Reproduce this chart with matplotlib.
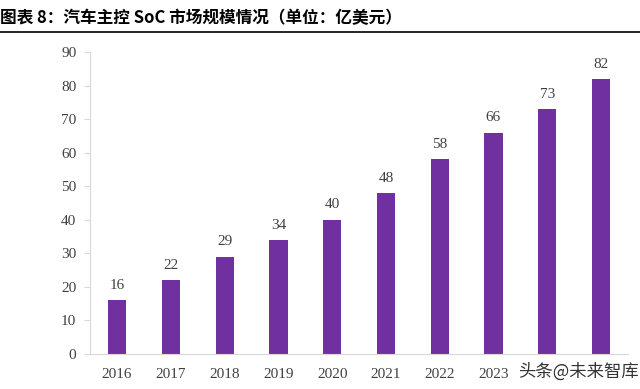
import matplotlib
matplotlib.use("Agg")
import matplotlib.pyplot as plt
from matplotlib.lines import Line2D

years = ["2016", "2017", "2018", "2019", "2020", "2021", "2022", "2023", "2024", "2025"]
values = [16, 22, 29, 34, 40, 48, 58, 66, 73, 82]
title = "图表 8：汽车主控 SoC 市场规模情况（单位：亿美元）"
watermark = "头条@未来智库"

PURPLE = "#7030A0"
GRID = "#d9d9d9"
TXT = "#404040"
SERIF = ["Liberation Serif", "DejaVu Serif"]
CJK = ["Noto Sans CJK SC", "DejaVu Sans"]

fig = plt.figure(figsize=(6.4, 3.89), dpi=100)
ax = fig.add_axes([0.141, 0.09, 0.84, 0.776])

x = list(range(len(years)))
ax.bar(x, values, width=0.34, color=PURPLE, zorder=2)
for xi, v in zip(x, values):
    ax.annotate(str(v), xy=(xi, v), xytext=(0, 6), textcoords="offset points",
                ha="center", va="bottom", fontsize=11, color=TXT, family=SERIF)

ax.set_xlim(-0.5, len(years) - 0.5)
ax.set_ylim(0, 90)
ax.set_yticks(range(0, 91, 10))
ax.set_xticks(x)
ax.set_xticklabels(years, family=SERIF, fontsize=11, color=TXT)
# the last two year labels sit under the watermark in the reference
for lab in ax.get_xticklabels()[-2:]:
    lab.set_visible(False)
for lab in ax.get_yticklabels():
    lab.set_family(SERIF)
ax.tick_params(axis="y", labelsize=11, labelcolor=TXT, color=GRID, length=4, pad=6)
ax.tick_params(axis="x", length=0, pad=10)
for side in ("top", "right"):
    ax.spines[side].set_visible(False)
for side in ("left", "bottom"):
    ax.spines[side].set_color(GRID)

fig.text(0.0, 0.953, title, ha="left", va="center", fontsize=12,
         fontweight="bold", family=CJK, color="black")
fig.add_artist(Line2D([0, 1], [0.918, 0.918], color="black", lw=1.2,
                      transform=fig.transFigure))
fig.text(0.998, 0.045, watermark, ha="right", va="center", fontsize=12.5,
         family=CJK, color="#333333")

fig.savefig("out.png", dpi=100)
